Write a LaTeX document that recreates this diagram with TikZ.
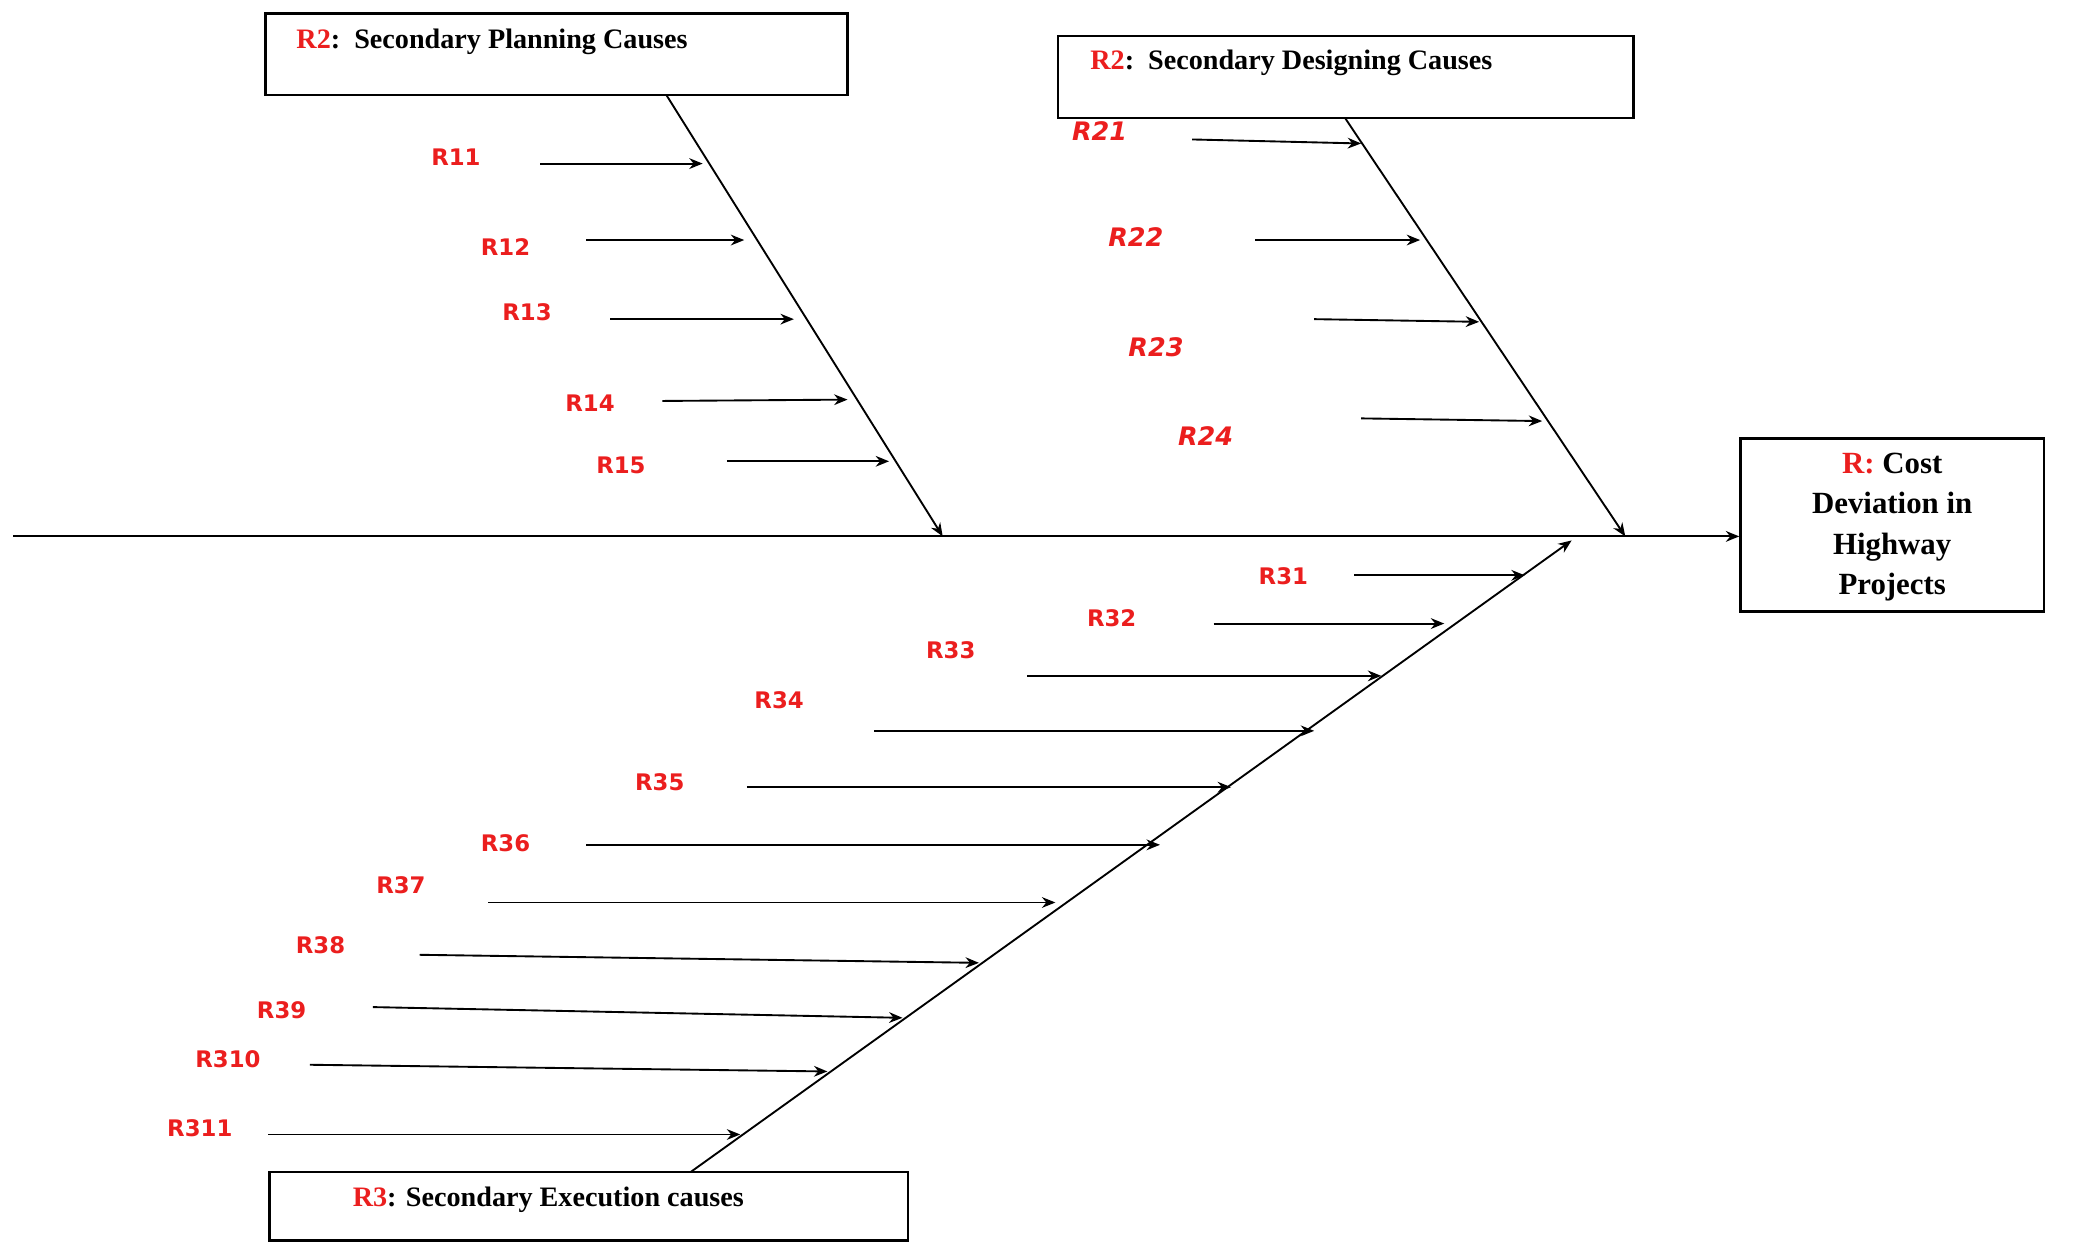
\documentclass[tikz,border=0pt]{standalone}
\usepackage{fontspec}
\setmainfont{Liberation Serif}
\newfontfamily\lblfont{DejaVu Sans}
\usetikzlibrary{arrows.meta}
\definecolor{rred}{RGB}{235,30,30}
\tikzset{
 bx/.style={draw,line width=0.9pt,inner sep=0},
 bt/.style={font=\bfseries\fontsize{10.5}{12}\selectfont},
 lb/.style={text=rred,font=\lblfont\bfseries\fontsize{8.5}{10}\selectfont},
 lbi/.style={text=rred,font=\lblfont\bfseries\itshape\fontsize{9.5}{11}\selectfont},
 ar/.style={-{Stealth[length=5pt,width=4pt]},line width=0.7pt},
}
\begin{document}
\begin{tikzpicture}[x=0.5pt,y=-0.5pt]
\useasboundingbox (0,0) rectangle (1566,930);
% boxes
\draw[bx] (198,10) rectangle (632,71);
\node[bt,anchor=west] (pb) at (214,31) {\textcolor{rred}{R2}:\, Secondary Planning Causes};
\draw[bx] (789,27) rectangle (1218,88);
\node[bt,anchor=west] (db) at (806,47) {\textcolor{rred}{R2}:\, Secondary Designing Causes};
\draw[bx] (1298,327) rectangle (1524,456);
\node[bt,align=center,font=\bfseries\fontsize{11.5}{15}\selectfont] (eff) at (1411,393) {\textcolor{rred}{R:} Cost\\Deviation in\\Highway\\Projects};
\draw[bx] (201,874) rectangle (677,925);
\node[bt,anchor=west] (xb) at (256,895) {\textcolor{rred}{R3}: Secondary Execution causes};
% spine and bones
\coordinate (s0) at (10,400); \coordinate (s1) at (1297,400);
\draw[ar] (s0) -- (s1);
\coordinate (p0) at (497,71); \coordinate (p1) at (703,400);
\draw[ar] (p0) -- (p1);
\coordinate (d0) at (1003,88); \coordinate (d1) at (1212,400);
\draw[ar] (d0) -- (d1);
\coordinate (x0) at (515,874); \coordinate (x1) at (1172,403);
\draw[ar] (x0) -- (x1);
% causes
\foreach \n/\lx/\ly/\ax/\ay/\bx/\by/\st in {
 R11/340/117/403/122/524/122/lb, R12/377/184/437/179/555/179/lb,
 R13/393/233/455/238/592/238/lb, R14/440/301/494/299/632/298/lb,
 R15/463/347/542/344/663/344/lb,
 R21/820/98/889/104/1015/107/lbi, R22/847/177/936/179/1059/179/lbi,
 R23/862/259/980/238/1103/240/lbi, R24/899/325/1015/312/1150/314/lbi,
 R31/957/430/1010/429/1137/429/lb, R32/829/461/905/465/1077/465/lb,
 R33/709/485/766/504/1030/504/lb, R34/581/522/652/545/980/545/lb,
 R35/492/583/557/587/918/587/lb, R36/377/629/437/630/865/630/lb,
 R37/299/660/364/673/787/673/lb, R38/239/705/313/712/730/718/lb,
 R39/210/753/278/751/673/759/lb, R310/170/790/231/794/617/799/lb,
 R311/149/841/200/846/552/846/lb}
{
 \node[\st] (l\n) at (\lx,\ly) {\n};
 \coordinate (a\n) at (\ax,\ay); \coordinate (b\n) at (\bx,\by);
 \draw[ar] (a\n) -- (b\n);
}
\end{tikzpicture}
\end{document}
